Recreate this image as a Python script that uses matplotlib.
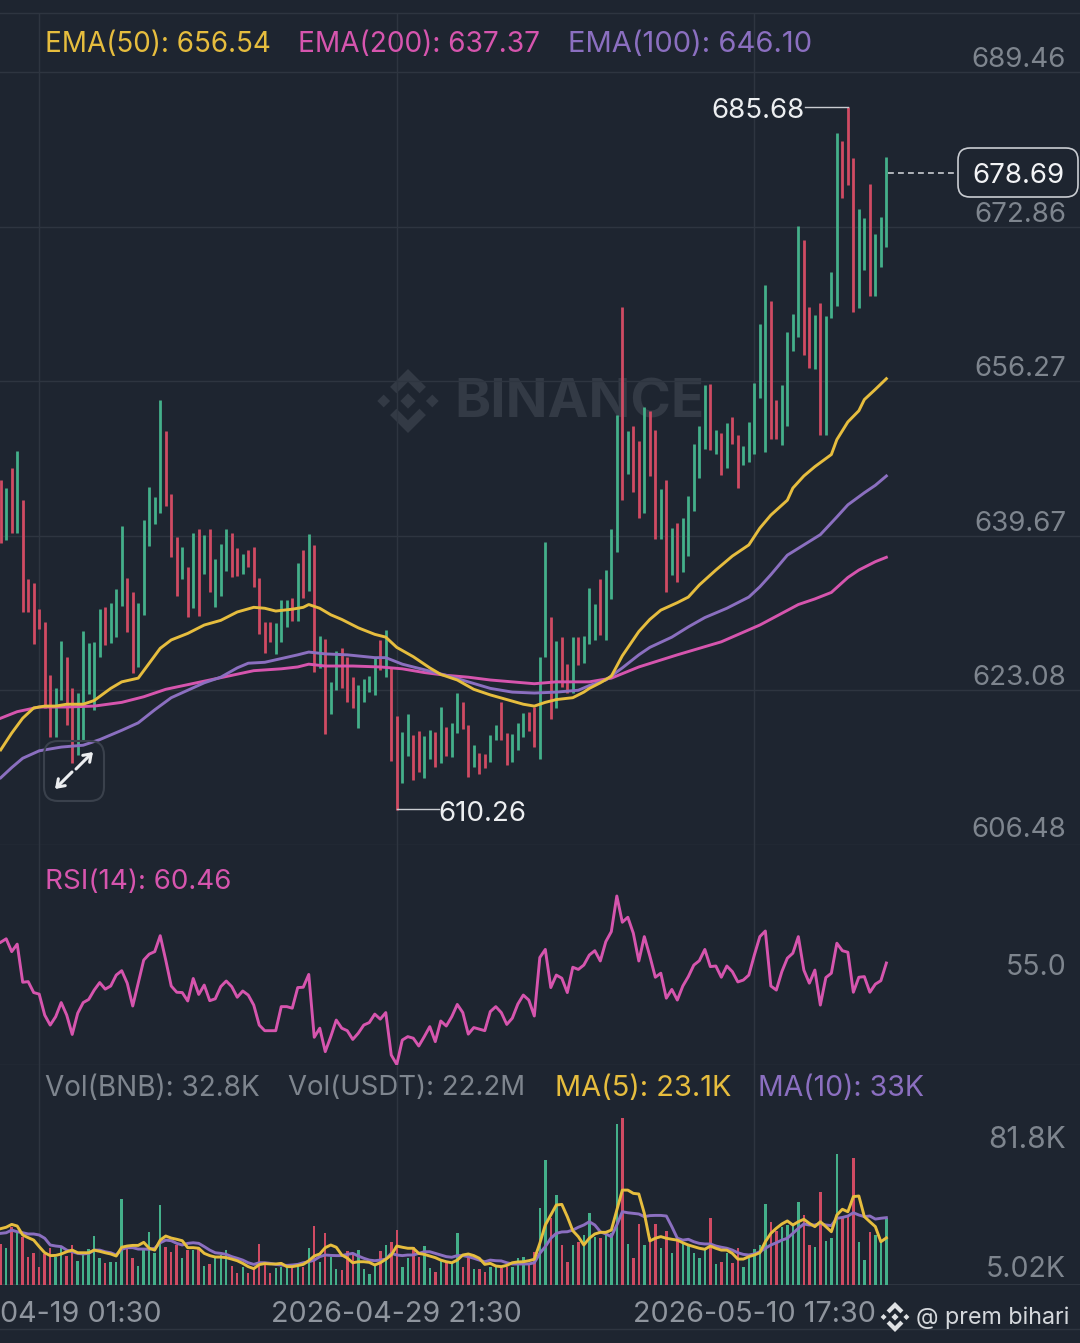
import numpy as np
import matplotlib
matplotlib.use("Agg")
import matplotlib.pyplot as plt
from matplotlib.patches import FancyBboxPatch, Polygon

W, H = 1080, 1343
BG = "#1e2530"
GRID = "#2e3540"
GREEN = "#44b08a"
RED = "#d04b63"
YELLOW = "#e6bd3e"
PINK = "#d655ae"
PURPLE = "#8b6fc0"
GREY = "#7e858e"

plt.rcParams["font.family"] = ["Inter", "DejaVu Sans"]

# candle range, one row per 10 candles
highs = [
    645.7, 644.8, 647.0, 648.8, 643.5, 635.0, 634.6, 631.8, 630.4, 624.7,
    623.3, 628.4, 626.7, 623.3, 622.8, 629.5, 628.2, 628.3, 631.8, 632.0,
    632.5, 634.0, 640.7, 635.2, 633.6, 632.5, 641.4, 644.9, 643.8, 654.2,
    650.9, 644.2, 639.6, 638.5, 636.3, 640.0, 640.4, 639.8, 640.4, 637.2,
    638.8, 640.4, 640.0, 638.4, 637.7, 638.1, 638.5, 635.2, 630.4, 630.4,
    630.3, 632.8, 632.8, 633.0, 636.8, 638.1, 639.9, 638.7, 628.9, 628.6,
    624.0, 627.3, 627.6, 626.7, 624.5, 623.7, 624.3, 624.6, 626.7, 628.5,
    629.6, 625.6, 620.3, 618.6, 620.6, 618.3, 618.7, 618.2, 618.8, 618.6,
    621.3, 619.2, 619.6, 622.8, 621.8, 619.4, 617.2, 616.4, 616.3, 618.3,
    619.4, 621.8, 618.5, 618.4, 619.6, 620.7, 620.8, 621.3, 626.7, 639.0,
    631.0, 628.4, 628.8, 625.9, 628.8, 628.8, 628.9, 634.1, 632.4, 635.0,
    636.0, 640.4, 652.6, 664.2, 650.9, 651.5, 649.9, 653.5, 653.1, 651.0,
    644.7, 645.7, 640.5, 641.1, 641.6, 644.0, 649.5, 651.5, 655.9, 656.0,
    651.0, 650.7, 651.8, 652.4, 650.5, 649.3, 651.9, 656.1, 662.4, 666.6,
    664.9, 654.2, 655.9, 661.5, 663.5, 672.9, 671.4, 664.2, 663.4, 664.7,
    663.3, 668.0, 682.9, 682.1, 685.68, 680.2, 674.7, 673.8, 677.4, 672.1,
    673.9, 680.3,
]
lows = [
    638.9, 639.2, 640.0, 640.0, 631.5, 631.5, 628.1, 629.7, 621.2, 618.1,
    618.1, 622.1, 619.4, 615.3, 616.2, 617.8, 622.7, 621.0, 626.7, 628.0,
    628.2, 628.8, 632.1, 629.4, 625.0, 625.6, 631.2, 638.6, 640.9, 642.1,
    642.9, 637.4, 633.2, 635.0, 631.0, 631.9, 631.1, 635.6, 633.6, 632.0,
    633.2, 635.9, 635.3, 635.4, 635.6, 636.3, 634.2, 629.1, 627.1, 628.3,
    627.0, 628.3, 629.9, 630.5, 630.5, 633.0, 633.8, 625.1, 625.5, 618.4,
    620.6, 623.1, 623.3, 621.8, 621.2, 619.1, 621.8, 622.9, 622.6, 625.3,
    624.5, 615.5, 610.26, 613.1, 616.0, 613.5, 614.3, 613.7, 615.7, 614.9,
    615.3, 616.0, 615.9, 618.5, 618.9, 613.8, 614.9, 614.1, 614.8, 615.4,
    617.8, 617.8, 615.1, 615.4, 616.7, 618.1, 618.7, 617.0, 615.7, 626.7,
    620.0, 621.2, 623.4, 622.8, 622.8, 625.8, 626.0, 628.1, 628.5, 629.0,
    628.5, 632.9, 637.9, 643.5, 646.3, 644.4, 641.6, 642.1, 646.1, 639.3,
    639.3, 633.6, 635.5, 634.7, 635.8, 637.5, 642.3, 645.9, 649.0, 648.9,
    648.5, 646.2, 647.0, 649.5, 644.8, 647.3, 647.6, 648.5, 654.5, 648.7,
    650.1, 650.1, 649.4, 651.5, 659.5, 661.0, 659.1, 657.7, 657.6, 650.5,
    650.5, 663.1, 664.3, 675.9, 677.3, 663.7, 664.1, 668.2, 665.4, 665.4,
    668.5, 670.7,
]
# g = up, r = down
directions = (
    "rgrgrrrrrr" "ggrrgggggr" "gggrrggggg" "rrrgrgrgrg" "ggrrgrrrrr"
    "gggrgrgrgr" "ggrrrggggr" "grrggrrggr" "grggrrgrrg" "grrgggrrgg"
    "rgrrgrgggr" "gggrgrrgrr" "grgrgggggr" "grgrrggggg" "rrggggrrgr"
    "gggrrrggrg" "gg"
)

ema50_idx = [0, 2, 4, 6, 8, 10, 12, 15, 17, 20, 22, 25, 27, 29, 31, 34, 37, 40, 43, 46,
             48, 50, 53, 55, 56, 58, 60, 62, 65, 68, 70, 72, 75, 78, 80, 83, 86, 89, 92, 95,
             97, 99, 101, 104, 106, 107, 109, 111, 113, 116, 118, 120, 123, 125, 127, 130,
             133, 136, 138, 140, 143, 144, 146, 148, 151, 152, 154, 156, 157, 159, 161]
ema50 = [616.7, 618.5, 620.1, 621.2, 621.4, 621.4, 621.6, 621.6, 622.0, 623.3, 624.0, 624.4,
         626.0, 627.6, 628.5, 629.2, 630.1, 630.6, 631.5, 632.0,
         631.9, 631.6, 631.8, 632.0, 632.3, 631.9, 631.2, 630.7, 629.8, 629.1, 628.8, 627.7,
         626.7, 625.5, 624.8, 624.2, 623.2, 622.6, 622.1, 621.6,
         621.4, 621.8, 622.1, 622.3, 622.9, 623.3, 623.9, 624.6, 626.8, 629.4, 630.7, 631.7,
         632.5, 633.1, 634.4, 636.0,
         637.5, 638.7, 640.5, 641.9, 643.5, 644.8, 646.1, 647.1, 648.4, 650.0, 651.9, 653.1,
         654.3, 655.4, 656.54]

ema100_idx = [0, 2, 4, 7, 11, 15, 18, 22, 25, 28, 31, 34, 37, 40, 43, 45, 48, 51, 54, 56, 59,
              63, 68, 70, 73, 77, 81, 85, 89, 93, 97, 101, 105, 107, 110, 113, 116, 118, 122,
              125, 128, 132, 136, 138, 140, 143, 146, 149, 152, 154, 157, 159, 161]
ema100 = [613.7, 614.8, 615.8, 616.6, 617.0, 617.2, 617.8, 618.8, 619.6, 621.0, 622.3, 623.1,
          623.9, 624.5, 625.5, 626.0, 626.1, 626.5, 626.9, 627.2, 627.0,
          626.9, 626.6, 626.6, 625.9, 625.3, 624.7, 624.0, 623.3, 622.9, 622.8, 622.9, 623.1,
          623.6, 624.2, 625.5, 626.9, 627.7, 628.8,
          629.9, 630.9, 631.9, 633.1, 634.2, 635.5, 637.6, 638.7, 639.8, 641.7, 643.0, 644.3,
          645.1, 646.10]

ema200_idx = [0, 3, 7, 12, 17, 22, 26, 30, 34, 38, 42, 46, 51, 54, 56, 59, 64, 69, 73, 77, 81,
              85, 89, 93, 97, 101, 105, 107, 111, 116, 123, 131, 138, 145, 148, 151, 154, 156,
              159, 161]
ema200 = [620.1, 620.8, 621.3, 621.3, 621.4, 621.8, 622.4, 623.2, 623.7, 624.2, 624.7, 625.2,
          625.4, 625.6, 625.9, 625.7, 625.7, 625.6, 625.4, 625.0, 624.7,
          624.5, 624.2, 624.0, 623.8, 624.0, 624.0, 624.0, 624.4, 625.6, 626.9, 628.3, 630.1,
          632.3, 632.9, 633.6, 635.2, 636.0, 636.9, 637.37]

rsi = [
    67.1, 68.2, 64.1, 66.5, 54.3, 54.5, 51.0, 50.5, 43.8, 40.6,
    43.3, 47.8, 43.8, 37.6, 44.4, 47.8, 48.8, 51.8, 54.2, 52.1,
    53.1, 56.6, 58.0, 54.0, 46.7, 54.0, 61.4, 63.3, 64.1, 69.2,
    61.4, 53.1, 51.1, 51.0, 48.3, 55.5, 50.4, 53.4, 48.4, 49.0,
    52.9, 54.7, 52.9, 49.5, 51.5, 50.2, 47.0, 40.6, 38.8, 38.8,
    38.8, 46.5, 46.5, 46.0, 52.6, 52.7, 56.8, 36.7, 39.6, 32.1,
    36.9, 42.2, 39.6, 38.8, 36.0, 38.0, 40.6, 41.4, 44.1, 42.5,
    44.6, 31.0, 28.0, 35.8, 36.9, 36.4, 33.9, 36.9, 40.1, 35.3,
    41.9, 40.3, 43.3, 47.2, 44.6, 37.7, 39.8, 39.3, 38.8, 44.9,
    46.5, 44.6, 40.8, 42.8, 47.3, 50.2, 48.6, 43.5, 62.2, 64.8,
    52.6, 56.6, 55.6, 51.0, 59.1, 58.4, 59.8, 63.0, 64.4, 61.1,
    67.3, 70.5, 81.9, 73.5, 75.1, 70.0, 61.1, 68.9, 62.7, 55.9,
    57.2, 49.2, 52.0, 48.6, 53.1, 56.1, 59.8, 61.2, 64.8, 59.3,
    59.5, 55.9, 59.5, 57.7, 54.4, 55.0, 56.6, 63.0, 68.9, 70.7,
    53.1, 51.8, 57.7, 62.0, 63.6, 68.9, 58.2, 54.0, 58.2, 47.0,
    55.8, 57.2, 66.8, 64.4, 63.9, 51.1, 55.9, 56.1, 51.1, 53.7,
    54.8, 60.46,
]

# volume in thousands
volume = [
    19.9, 18.3, 28.6, 25.3, 23.7, 13.6, 15.5, 8.7, 15.2, 18.0,
    13.9, 18.0, 14.2, 19.6, 11.9, 14.7, 17.5, 24.0, 13.1, 10.9,
    11.4, 11.4, 42.1, 18.0, 13.4, 9.3, 18.0, 26.1, 15.5, 39.4,
    18.5, 16.3, 19.6, 13.4, 17.1, 17.1, 18.0, 9.5, 10.1, 13.9,
    14.7, 17.1, 9.3, 6.0, 9.0, 5.7, 9.0, 20.1, 9.8, 6.0,
    8.2, 9.0, 8.2, 8.2, 9.0, 9.0, 18.3, 28.9, 11.1, 25.6,
    13.9, 7.8, 7.3, 16.8, 14.7, 17.1, 7.7, 5.4, 9.5, 16.8,
    19.8, 21.2, 26.9, 8.7, 13.1, 18.5, 13.9, 19.3, 8.2, 6.2,
    12.2, 10.6, 10.6, 25.6, 9.0, 13.1, 7.8, 7.8, 6.5, 9.0,
    8.7, 8.2, 9.0, 9.0, 13.1, 13.6, 9.8, 16.3, 37.9, 61.2,
    32.7, 43.9, 19.6, 11.4, 19.6, 21.2, 24.5, 35.4, 23.7, 22.9,
    24.5, 25.3, 78.7, 81.8, 20.1, 13.1, 29.9, 19.6, 23.7, 29.7,
    18.0, 26.6, 15.5, 22.9, 21.2, 19.1, 15.5, 13.4, 17.1, 33.0,
    10.1, 11.4, 15.5, 10.9, 18.0, 8.7, 13.1, 17.5, 19.6, 39.7,
    31.0, 26.6, 28.6, 29.4, 30.2, 40.5, 34.3, 19.6, 18.5, 45.4,
    21.7, 22.9, 64.0, 33.5, 34.3, 62.4, 21.2, 12.2, 25.8, 24.5,
    22.0, 32.8,
]
ma5 = [
    27.6, 28.3, 29.7, 28.9, 24.5, 23.2, 22.0, 18.8, 15.8, 14.4,
    14.5, 15.2, 16.3, 17.1, 15.8, 15.8, 15.8, 17.1, 16.5, 15.8,
    15.2, 14.2, 18.5, 19.1, 19.4, 19.4, 20.9, 18.0, 17.1, 22.0,
    24.0, 23.0, 22.4, 21.7, 18.3, 18.3, 18.0, 15.5, 14.4, 13.7,
    13.7, 13.4, 12.7, 11.9, 10.6, 9.0, 8.0, 10.0, 10.5, 10.3,
    10.3, 10.6, 9.0, 9.0, 9.5, 10.1, 11.9, 14.2, 15.2, 18.3,
    19.6, 18.5, 14.7, 13.2, 10.9, 11.4, 11.4, 11.1, 9.8, 10.9,
    12.6, 14.7, 19.1, 18.5, 18.0, 18.0, 15.5, 15.0, 14.2, 13.4,
    12.2, 11.4, 10.9, 12.2, 14.7, 15.2, 14.4, 13.1, 10.1, 10.6,
    9.3, 9.0, 9.6, 10.9, 11.3, 11.4, 11.9, 12.6, 20.4, 29.4,
    34.3, 39.2, 39.5, 33.5, 26.6, 23.7, 19.6, 22.9, 25.0, 25.8,
    25.8, 26.9, 36.7, 46.5, 46.5, 44.9, 44.6, 35.1, 21.6, 22.9,
    23.7, 22.9, 22.4, 22.0, 20.7, 19.6, 18.8, 18.0, 17.5, 19.1,
    18.0, 17.1, 17.1, 15.5, 12.7, 12.7, 13.9, 14.7, 15.8, 21.2,
    25.3, 27.8, 29.9, 31.4, 29.4, 31.0, 32.2, 30.2, 28.6, 31.0,
    28.6, 26.1, 34.3, 37.1, 35.9, 43.3, 43.6, 33.5, 31.0, 28.6,
    21.2, 23.1,
]
ma10 = [
    25.3, 25.6, 26.9, 26.1, 25.6, 25.0, 25.0, 24.5, 22.9, 19.6,
    19.1, 18.8, 17.1, 16.3, 15.5, 15.2, 15.5, 17.1, 17.1, 16.3,
    15.8, 14.7, 17.5, 18.3, 18.3, 17.6, 17.6, 17.5, 18.0, 20.7,
    22.0, 21.7, 20.4, 19.6, 20.4, 20.7, 20.4, 18.8, 17.1, 15.8,
    15.5, 15.0, 13.9, 13.1, 12.2, 10.9, 10.1, 10.9, 10.9, 10.6,
    10.1, 9.8, 9.6, 9.8, 10.1, 10.9, 11.4, 12.2, 13.9, 14.7,
    14.5, 14.4, 14.4, 15.0, 15.5, 14.2, 13.1, 12.2, 11.9, 12.2,
    12.7, 15.5, 14.7, 14.4, 14.7, 14.7, 15.5, 16.3, 16.3, 15.5,
    14.7, 13.9, 13.6, 14.4, 14.4, 13.9, 13.1, 12.2, 11.4, 12.2,
    11.9, 11.8, 10.9, 10.3, 10.3, 10.3, 10.3, 10.9, 15.5, 18.8,
    22.9, 25.3, 26.0, 26.1, 26.9, 28.3, 29.4, 31.0, 29.4, 26.1,
    25.0, 23.7, 29.4, 35.9, 35.4, 35.1, 34.8, 33.5, 34.0, 34.1,
    34.1, 33.8, 28.6, 22.9, 22.0, 22.4, 21.2, 20.4, 20.1, 20.1,
    19.1, 18.5, 18.0, 17.1, 15.8, 15.0, 14.7, 15.2, 16.3, 18.0,
    19.6, 20.7, 22.0, 22.9, 25.3, 27.8, 29.9, 29.4, 29.4, 30.2,
    29.4, 29.1, 32.7, 33.1, 33.8, 35.4, 34.3, 33.5, 33.8, 32.3,
    32.7, 33.0,
]

price_ticks = [689.46, 672.86, 656.27, 639.67, 623.08, 606.48]
rsi_ticks = [55.0]
vol_ticks = [81.8, 5.02]
vol_tick_labels = ["81.8K", "5.02K"]
time_idx = [7, 72, 137]
time_labels = ["04-19 01:30", "2026-04-29 21:30", "2026-05-10 17:30"]
low_idx, high_idx = 72, 154
low_price, high_price = 610.26, 685.68
last_price = 678.69


def panel(top, bottom, z=1):
    a = fig.add_axes([0, 1 - bottom / H, 1, (bottom - top) / H], zorder=z)
    a.axis("off")
    a.set_xlim(-0.127, 196.2)
    return a


def logo(a, cx, cy, r, color, z=1):
    # binance mark: centre and side diamonds plus two chevrons
    for dx, dy, s in [(0, 0, 0.24), (-0.76, 0, 0.2), (0.76, 0, 0.2)]:
        a.add_patch(Polygon([(cx + dx * r, cy - s * r), (cx + (dx + s) * r, cy),
                             (cx + dx * r, cy + s * r), (cx + (dx - s) * r, cy)],
                            fc=color, ec="none", zorder=z))
    for sgn in (-1, 1):
        a.add_patch(Polygon([(cx, cy + sgn * r), (cx + 0.56 * r, cy + sgn * 0.44 * r),
                             (cx + 0.36 * r, cy + sgn * 0.24 * r), (cx, cy + sgn * 0.6 * r),
                             (cx - 0.36 * r, cy + sgn * 0.24 * r), (cx - 0.56 * r, cy + sgn * 0.44 * r)],
                            fc=color, ec="none", zorder=z))


fig = plt.figure(figsize=(W / 100, H / 100), dpi=100, facecolor=BG)

ax_bg = fig.add_axes([0, 0, 1, 1], zorder=0)
ax_bg.axis("off")
ax_bg.set_xlim(0, W)
ax_bg.set_ylim(H, 0)
for y in [13, 1329]:
    ax_bg.axhline(y, color=GRID, lw=1)
logo(ax_bg, 408, 401, 32, "#333a45")
ax_bg.text(454, 403, "BINANCE", color="#333a45", fontsize=39.5, fontweight="bold", va="center", ha="left")

x = np.arange(len(highs))
colors = [GREEN if d == "g" else RED for d in directions]

# price panel
ax = panel(13, 845)
ax.set_ylim(606.49, 695.79)
for p in price_ticks:
    ax.axhline(p, color=GRID, lw=1, zorder=1)
for t in time_idx:
    ax.axvline(t, color=GRID, lw=1, zorder=1)
ax.vlines(x, lows, highs, colors=colors, lw=2, capstyle="butt", zorder=2)
ax.plot(ema200_idx, ema200, color=PINK, lw=2.1, zorder=3)
ax.plot(ema100_idx, ema100, color=PURPLE, lw=2.1, zorder=3)
ax.plot(ema50_idx, ema50, color=YELLOW, lw=2.1, zorder=4)
for p in price_ticks:
    off = 15 if p == 606.48 else 12
    ax.annotate(f"{p:.2f}", xy=(1, p), xycoords=("axes fraction", "data"), xytext=(-14, off),
                textcoords="offset pixels", ha="right", va="center", color=GREY, fontsize=20)

# rsi panel
ax_r = panel(845, 1065)
ax_r.set_ylim(60.46 + (963 - 1065) * 0.32, 60.46 + (963 - 845) * 0.32)
ax_r.axhline(ax_r.get_ylim()[0], color=GRID, lw=1)
for t in time_idx:
    ax_r.axvline(t, color=GRID, lw=1, zorder=1)
ax_r.plot(x, rsi, color=PINK, lw=2.1, zorder=3)
for v in rsi_ticks:
    ax_r.annotate(f"{v:.1f}", xy=(1, v), xycoords=("axes fraction", "data"), xytext=(-14, 13),
                  textcoords="offset pixels", ha="right", va="center", color=GREY, fontsize=20.5)

# volume panel
ax_v = panel(1065, 1285)
ax_v.set_ylim(0, 220 * 0.49)
ax_v.axhline(0, color=GRID, lw=1.5)
for t in time_idx:
    ax_v.axvline(t, color=GRID, lw=1, zorder=1)
ax_v.bar(x, volume, width=0.45, color=colors, zorder=2)
ax_v.plot(x, ma10, color=PURPLE, lw=2.1, zorder=3)
ax_v.plot(x, ma5, color=YELLOW, lw=2.1, zorder=4)
ax_v.annotate(vol_tick_labels[0], xy=(1, vol_ticks[0]), xycoords=("axes fraction", "data"), xytext=(-14, -22),
              textcoords="offset pixels", ha="right", va="center", color=GREY, fontsize=21.5)
ax_v.annotate(vol_tick_labels[1], xy=(1, vol_ticks[1]), xycoords=("axes fraction", "data"), xytext=(-14, 5),
              textcoords="offset pixels", ha="right", va="center", color=GREY, fontsize=20.5)

# overlay: legends, labels, markers
top = fig.add_axes([0, 0, 1, 1], zorder=5)
top.axis("off")
top.patch.set_alpha(0)
top.set_xlim(0, W)
top.set_ylim(H, 0)


def label(px, py, s, color, ha="left", size=20):
    # Inter sits a little high with va=center
    top.text(px, py + 3, s, color=color, fontsize=size, ha=ha, va="center")


label(45, 41, "EMA(50): 656.54", YELLOW, size=20.05)
label(298, 41, "EMA(200): 637.37", PINK, size=20.15)
label(568, 41, "EMA(100): 646.10", PURPLE, size=21)
label(45, 879, "RSI(14): 60.46", PINK)
label(45, 1085, "Vol(BNB): 32.8K", GREY, size=20.1)
label(288, 1085, "Vol(USDT): 22.2M", GREY, size=19.85)
label(555, 1085, "MA(5): 23.1K", YELLOW, size=20.9)
label(758, 1085, "MA(10): 33K", PURPLE, size=20.5)

label(0, 1311, time_labels[0], "#8f959e", size=20.7)
for t, s in zip(time_idx[1:], time_labels[1:]):
    label(0.7 + 5.5 * t, 1311, s, "#8f959e", ha="center", size=20.7)

# high and low callouts
ax.plot([high_idx - 43 / 5.5, high_idx], [high_price, high_price], color="#c9ccd1", lw=1, zorder=5)
ax.plot([low_idx, low_idx + 42 / 5.5], [low_price + 0.1, low_price + 0.1], color="#c9ccd1", lw=1, zorder=5)
ax.annotate(f"{high_price:.2f}", xy=(high_idx, high_price), xytext=(-43, -4), textcoords="offset pixels",
            ha="right", va="center", color="#eceef0", fontsize=20)
ax.annotate(f"{low_price:.2f}", xy=(low_idx, low_price), xytext=(42, -4), textcoords="offset pixels",
            ha="left", va="center", color="#eceef0", fontsize=20)

# last price tag
top.plot([888, 958], [173, 173], color="#c9ccd1", lw=1.2, ls=(0, (3.5, 2.5)))
top.add_patch(FancyBboxPatch((958, 148), 120, 49, boxstyle="round,pad=0,rounding_size=12",
                             fc=BG, ec="#c9ccd1", lw=1.2))
label(1018, 173, f"{last_price:.2f}", "#f2f3f5", ha="center")

# expand button
top.add_patch(FancyBboxPatch((44, 741), 60, 60, boxstyle="round,pad=0,rounding_size=14",
                             fc="none", ec="#3a414c", lw=1.5))
for p0, p1 in [((76, 769), (93, 752)), ((72, 772), (55, 789))]:
    top.annotate("", xy=p1, xytext=p0,
                 arrowprops=dict(arrowstyle="->,head_length=0.5,head_width=0.35", color="#eceef0", lw=2.2,
                                 shrinkA=0, shrinkB=0))

# bottom attribution
logo(top, 895, 1317, 15, "#dfe1e4", z=6)
label(916, 1315, "@ prem bihari", "#d5d8dc", size=16.8)

fig.savefig("out.png", dpi=100, facecolor=BG)
